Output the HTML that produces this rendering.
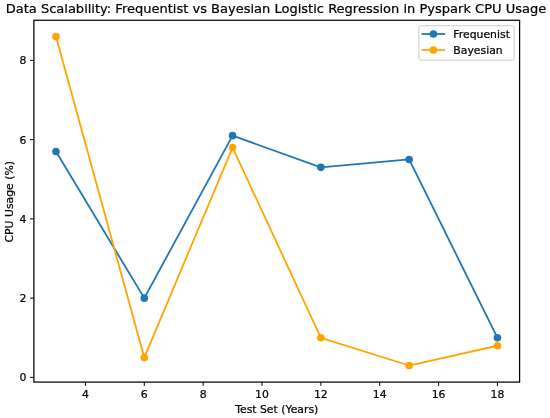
<!DOCTYPE html>
<html><head><meta charset="utf-8"><title>Chart</title><style>html,body{margin:0;padding:0;background:#fff}body{width:550px;height:418px;overflow:hidden}text{fill:#000;stroke:#000;stroke-width:0.22px;stroke-linejoin:round}</style></head><body>
<svg width="550" height="418" viewBox="0 0 550 418" style="display:block;font-family:'DejaVu Sans','Liberation Sans',sans-serif">
<rect width="550" height="418" fill="#fff"/>
<clipPath id="c"><rect x="33.9" y="20.25" width="485.70000000000005" height="361.85"/></clipPath><g clip-path="url(#c)">
<polyline points="55.99,151.51 144.28,298.14 232.57,135.66 320.86,167.36 409.15,159.43 497.44,337.77" fill="none" stroke="#1f77b4" stroke-width="1.8" stroke-linejoin="round" stroke-linecap="square"/>
<circle cx="55.99" cy="151.51" r="3.80" fill="#1f77b4"/>
<circle cx="144.28" cy="298.14" r="3.80" fill="#1f77b4"/>
<circle cx="232.57" cy="135.66" r="3.80" fill="#1f77b4"/>
<circle cx="320.86" cy="167.36" r="3.80" fill="#1f77b4"/>
<circle cx="409.15" cy="159.43" r="3.80" fill="#1f77b4"/>
<circle cx="497.44" cy="337.77" r="3.80" fill="#1f77b4"/>
<polyline points="55.99,36.58 144.28,357.58 232.57,147.55 320.86,337.77 409.15,365.51 497.44,345.70" fill="none" stroke="#ffa500" stroke-width="1.8" stroke-linejoin="round" stroke-linecap="square"/>
<circle cx="55.99" cy="36.58" r="3.80" fill="#ffa500"/>
<circle cx="144.28" cy="357.58" r="3.80" fill="#ffa500"/>
<circle cx="232.57" cy="147.55" r="3.80" fill="#ffa500"/>
<circle cx="320.86" cy="337.77" r="3.80" fill="#ffa500"/>
<circle cx="409.15" cy="365.51" r="3.80" fill="#ffa500"/>
<circle cx="497.44" cy="345.70" r="3.80" fill="#ffa500"/>
</g>
<rect x="33.9" y="20.25" width="485.70" height="361.85" fill="none" stroke="#000" stroke-width="1.25"/>
<line x1="85.42" x2="85.42" y1="382.1" y2="385.90" stroke="#000" stroke-width="1.0"/>
<text x="85.42" y="398.10" font-size="10.85" text-anchor="middle">4</text>
<line x1="144.28" x2="144.28" y1="382.1" y2="385.90" stroke="#000" stroke-width="1.0"/>
<text x="144.28" y="398.10" font-size="10.85" text-anchor="middle">6</text>
<line x1="203.14" x2="203.14" y1="382.1" y2="385.90" stroke="#000" stroke-width="1.0"/>
<text x="203.14" y="398.10" font-size="10.85" text-anchor="middle">8</text>
<line x1="262.00" x2="262.00" y1="382.1" y2="385.90" stroke="#000" stroke-width="1.0"/>
<text x="262.00" y="398.10" font-size="10.85" text-anchor="middle">10</text>
<line x1="320.86" x2="320.86" y1="382.1" y2="385.90" stroke="#000" stroke-width="1.0"/>
<text x="320.86" y="398.10" font-size="10.85" text-anchor="middle">12</text>
<line x1="379.72" x2="379.72" y1="382.1" y2="385.90" stroke="#000" stroke-width="1.0"/>
<text x="379.72" y="398.10" font-size="10.85" text-anchor="middle">14</text>
<line x1="438.58" x2="438.58" y1="382.1" y2="385.90" stroke="#000" stroke-width="1.0"/>
<text x="438.58" y="398.10" font-size="10.85" text-anchor="middle">16</text>
<line x1="497.44" x2="497.44" y1="382.1" y2="385.90" stroke="#000" stroke-width="1.0"/>
<text x="497.44" y="398.10" font-size="10.85" text-anchor="middle">18</text>
<line x1="30.10" x2="33.9" y1="377.40" y2="377.40" stroke="#000" stroke-width="1.0"/>
<text x="26.30" y="381.35" font-size="10.85" text-anchor="end">0</text>
<line x1="30.10" x2="33.9" y1="298.14" y2="298.14" stroke="#000" stroke-width="1.0"/>
<text x="26.30" y="302.09" font-size="10.85" text-anchor="end">2</text>
<line x1="30.10" x2="33.9" y1="218.88" y2="218.88" stroke="#000" stroke-width="1.0"/>
<text x="26.30" y="222.83" font-size="10.85" text-anchor="end">4</text>
<line x1="30.10" x2="33.9" y1="139.62" y2="139.62" stroke="#000" stroke-width="1.0"/>
<text x="26.30" y="143.57" font-size="10.85" text-anchor="end">6</text>
<line x1="30.10" x2="33.9" y1="60.36" y2="60.36" stroke="#000" stroke-width="1.0"/>
<text x="26.30" y="64.31" font-size="10.85" text-anchor="end">8</text>
<text x="276.75" y="413.2" font-size="10.85" text-anchor="middle">Test Set (Years)</text>
<text transform="translate(12.5,201.78) rotate(-90)" font-size="10.85" text-anchor="middle">CPU Usage (%)</text>
<text x="275.95" y="13.2" font-size="13.03" text-anchor="middle">Data Scalability: Frequentist vs Bayesian Logistic Regression in Pyspark CPU Usage</text>
<rect x="418.8" y="25.7" width="95.40" height="34.50" rx="2" ry="2" fill="#fff" fill-opacity="0.8" stroke="#ccc" stroke-width="1"/>
<line x1="422.54" x2="444.25" y1="34.05" y2="34.05" stroke="#1f77b4" stroke-width="1.8" stroke-linecap="square"/>
<circle cx="433.40" cy="34.05" r="3.80" fill="#1f77b4"/>
<text x="453.34" y="37.55" font-size="10.85">Frequenist</text>
<line x1="422.54" x2="444.25" y1="50.05" y2="50.05" stroke="#ffa500" stroke-width="1.8" stroke-linecap="square"/>
<circle cx="433.40" cy="50.05" r="3.80" fill="#ffa500"/>
<text x="453.34" y="54.05" font-size="10.85">Bayesian</text>
</svg>
</body></html>
